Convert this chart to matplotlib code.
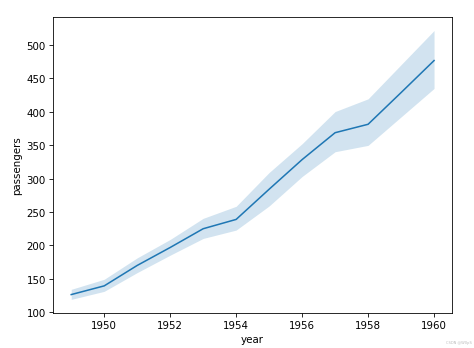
import matplotlib
matplotlib.use("Agg")
import matplotlib.pyplot as plt

years = [1949, 1950, 1951, 1952, 1953, 1954, 1955, 1956, 1957, 1958, 1959, 1960]
mean_passengers = [126.67, 139.67, 170.17, 197.0, 225.0, 238.92, 284.0, 328.25, 368.42, 381.0, 428.33, 476.17]
ci_low = [119.5, 131.5, 159.5, 185.5, 210.5, 223.0, 259.0, 303.0, 340.0, 349.5, 392.0, 434.5]
ci_high = [134.5, 149.5, 181.5, 209.0, 240.5, 258.5, 309.0, 352.0, 400.0, 419.0, 470.0, 521.0]

fig = plt.figure(figsize=(474 / 74, 349 / 74), dpi=74)
ax = fig.add_axes([0.112, 0.100, 0.842, 0.848])
ax.fill_between(years, ci_low, ci_high, color="#1f77b4", alpha=0.2, linewidth=0)
ax.plot(years, mean_passengers, color="#1f77b4", linewidth=1.5)
ax.set_xlabel("year")
ax.set_ylabel("passengers")
ax.set_xticks([1950, 1952, 1954, 1956, 1958, 1960])
ax.set_yticks([100, 150, 200, 250, 300, 350, 400, 450, 500])
ax.set_xlim(1948.45, 1960.55)
ax.set_ylim(99, 541)
fig.text(0.995, 0.012, "CSDN @W0pS", fontsize=3.5, color="#bbbbbb", ha="right", va="bottom")
fig.savefig("out.png", dpi=74)
